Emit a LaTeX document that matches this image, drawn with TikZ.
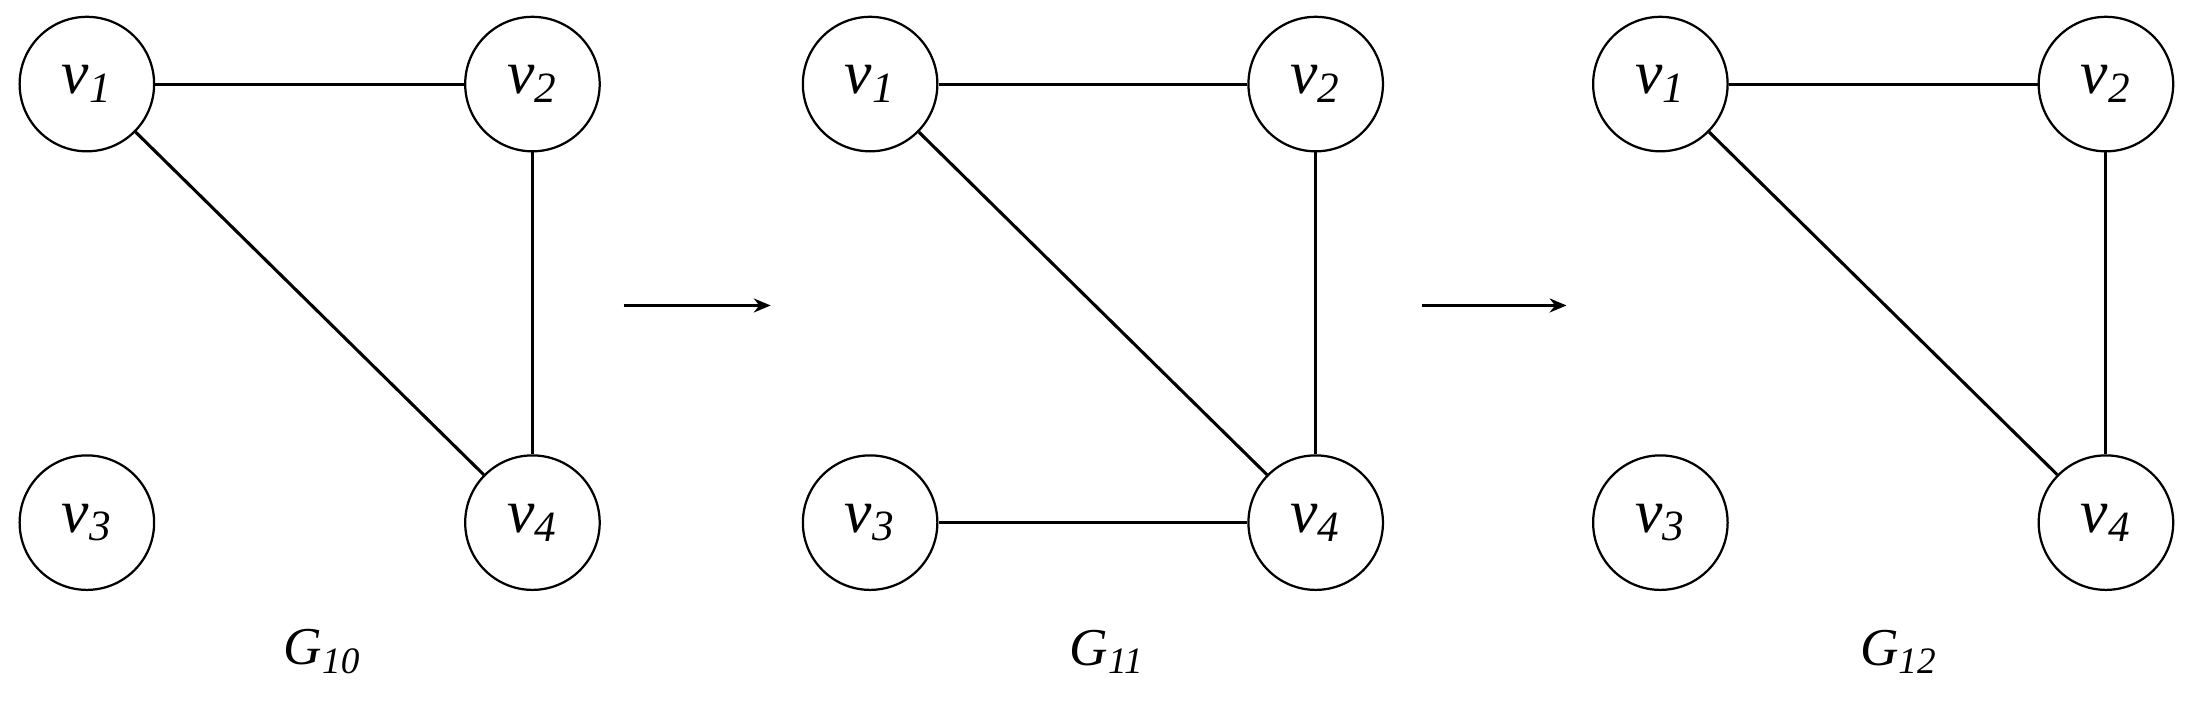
\documentclass[tikz,border=0pt]{standalone}
\usepackage{fontspec}
\usetikzlibrary{arrows.meta}
\setmainfont{Liberation Serif}
\begin{document}
\begin{tikzpicture}[x=0.5pt,y=-0.5pt,
  vtx/.style={draw,circle,minimum size=48pt,inner sep=0pt,line width=0.8pt,font=\fontsize{22}{24}\selectfont},
  edge/.style={line width=1.1pt},
  lab/.style={font=\fontsize{19}{22}\selectfont}]
\useasboundingbox (0,0) rectangle (1568,505);
\foreach \g/\x in {a/62,b/621,c/1185}{
  \node[vtx] (\g1) at (\x,60) {\textit{v}\textsubscript{\textit{1}}};
  \node[vtx] (\g2) at (\x+318,60) {\textit{v}\textsubscript{\textit{2}}};
  \node[vtx] (\g3) at (\x,373) {\textit{v}\textsubscript{\textit{3}}};
  \node[vtx] (\g4) at (\x+318,373) {\textit{v}\textsubscript{\textit{4}}};
  \draw[edge] (\g1)--(\g2); \draw[edge] (\g2)--(\g4); \draw[edge] (\g1)--(\g4);
}
\draw[edge] (b3)--(b4);
\node[lab] (ga) at (230,465) {\textit{G}\textsubscript{\textit{10}}};
\node[lab] (gb) at (790,465) {\textit{G}\textsubscript{\textit{11}}};
\node[lab] (gc) at (1355,465) {\textit{G}\textsubscript{\textit{12}}};
\coordinate (p1) at (445,218); \coordinate (q1) at (550,218);
\coordinate (p2) at (1015,218); \coordinate (q2) at (1118,218);
\draw[edge,-{Stealth[length=6pt,width=5pt]}] (p1)--(q1);
\draw[edge,-{Stealth[length=6pt,width=5pt]}] (p2)--(q2);
\end{tikzpicture}
\end{document}
